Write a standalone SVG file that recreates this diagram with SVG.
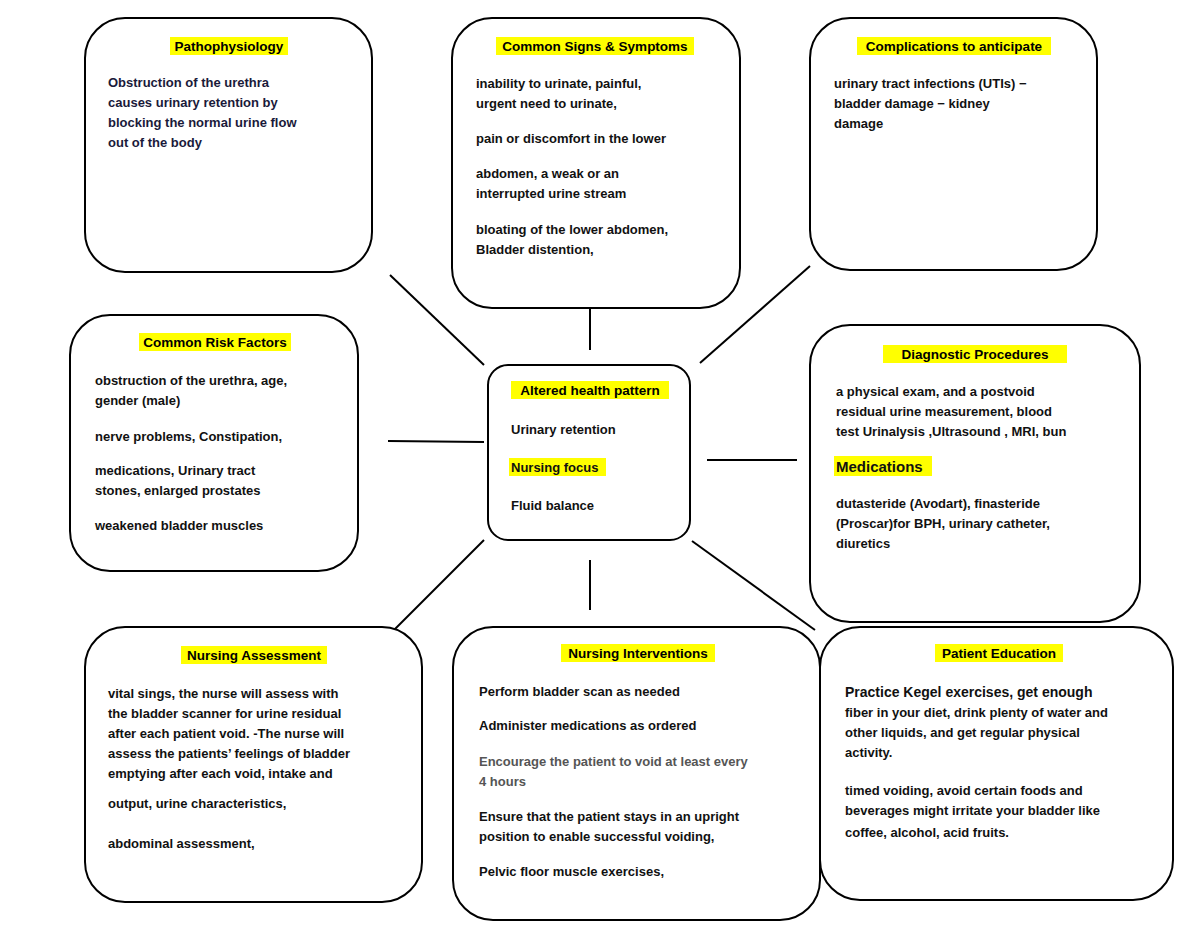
<svg xmlns="http://www.w3.org/2000/svg" width="1200" height="927" viewBox="0 0 1200 927">
<style>
.box{fill:#fff;stroke:#000;stroke-width:2}
.hl{fill:#ffff00}
.h{font-family:"Liberation Sans",Arial,sans-serif;font-weight:bold;font-size:13.5px;fill:#000;text-anchor:middle}
.t{font-family:"Liberation Sans",Arial,sans-serif;font-weight:bold;font-size:13px;fill:#111}
.n{fill:#1a1a3a}
.g{fill:#555}
.c line{stroke:#000;stroke-width:2}
</style>
<rect width="1200" height="927" fill="#fff"/>
<g class="c">
<line x1="390" y1="275" x2="484" y2="365"/>
<line x1="590" y1="283" x2="590" y2="350"/>
<line x1="810" y1="266" x2="700" y2="363"/>
<line x1="388" y1="441" x2="484" y2="442"/>
<line x1="707" y1="460" x2="797" y2="460"/>
<line x1="484" y1="540" x2="388" y2="636"/>
<line x1="590" y1="560" x2="590" y2="610"/>
<line x1="692" y1="541" x2="815" y2="630"/>
</g>
<g id="patho">
<rect class="box" x="85" y="18" width="287" height="254" rx="40"/>
<rect class="hl" x="170" y="37" width="118" height="18"/>
<text class="h" x="229" y="51">Pathophysiology</text>
<text class="t n" x="108" y="87">Obstruction of the urethra</text>
<text class="t n" x="108" y="107">causes urinary retention by</text>
<text class="t n" x="108" y="127">blocking the normal urine flow</text>
<text class="t n" x="108" y="147">out of the body</text>
</g>
<g id="signs">
<rect class="box" x="452" y="18" width="288" height="290" rx="40"/>
<rect class="hl" x="496" y="37" width="198" height="18"/>
<text class="h" x="595" y="51">Common Signs &amp; Symptoms</text>
<text class="t" x="476" y="88">inability to urinate, painful,</text>
<text class="t" x="476" y="108">urgent need to urinate,</text>
<text class="t" x="476" y="143">pain or discomfort in the lower</text>
<text class="t" x="476" y="178">abdomen, a weak or an</text>
<text class="t" x="476" y="198">interrupted urine stream</text>
<text class="t" x="476" y="234">bloating of the lower abdomen,</text>
<text class="t" x="476" y="254">Bladder distention,</text>
</g>
<g id="compl">
<rect class="box" x="810" y="18" width="287" height="252" rx="40"/>
<rect class="hl" x="857" y="37" width="194" height="18"/>
<text class="h" x="954" y="51">Complications to anticipate</text>
<text class="t" x="834" y="88">urinary tract infections (UTIs) −</text>
<text class="t" x="834" y="108">bladder damage − kidney</text>
<text class="t" x="834" y="128">damage</text>
</g>
<g id="risk">
<rect class="box" x="70" y="315" width="288" height="256" rx="40"/>
<rect class="hl" x="139" y="333" width="152" height="18"/>
<text class="h" x="215" y="347">Common Risk Factors</text>
<text class="t" x="95" y="385">obstruction of the urethra, age,</text>
<text class="t" x="95" y="405">gender (male)</text>
<text class="t" x="95" y="441">nerve problems, Constipation,</text>
<text class="t" x="95" y="475">medications, Urinary tract</text>
<text class="t" x="95" y="495">stones, enlarged prostates</text>
<text class="t" x="95" y="530">weakened bladder muscles</text>
</g>
<g id="center">
<rect class="box" x="488" y="365" width="202" height="175" rx="20"/>
<rect class="hl" x="511" y="381" width="158" height="18"/>
<text class="h" x="590" y="395">Altered health pattern</text>
<text class="t" x="511" y="434">Urinary retention</text>
<rect class="hl" x="509" y="458" width="97" height="18"/>
<text class="t" x="511" y="472">Nursing focus</text>
<text class="t" x="511" y="510">Fluid balance</text>
</g>
<g id="diag">
<rect class="box" x="810" y="325" width="330" height="297" rx="40"/>
<rect class="hl" x="883" y="345" width="184" height="18"/>
<text class="h" x="975" y="359">Diagnostic Procedures</text>
<text class="t" x="836" y="396">a physical exam, and a postvoid</text>
<text class="t" x="836" y="416">residual urine measurement, blood</text>
<text class="t" x="836" y="436">test Urinalysis ,Ultrasound , MRI, bun</text>
<rect class="hl" x="834" y="456" width="98" height="20"/>
<text class="t" x="836" y="472" style="font-size:15px">Medications</text>
<text class="t" x="836" y="508">dutasteride (Avodart), finasteride</text>
<text class="t" x="836" y="528">(Proscar)for BPH, urinary catheter,</text>
<text class="t" x="836" y="548">diuretics</text>
</g>
<g id="assess">
<rect class="box" x="85" y="627" width="337" height="275" rx="40"/>
<rect class="hl" x="181" y="646" width="146" height="18"/>
<text class="h" x="254" y="660">Nursing Assessment</text>
<text class="t" x="108" y="698">vital sings, the nurse will assess with</text>
<text class="t" x="108" y="718">the bladder scanner for urine residual</text>
<text class="t" x="108" y="738">after each patient void. -The nurse will</text>
<text class="t" x="108" y="758">assess the patients’ feelings of bladder</text>
<text class="t" x="108" y="778">emptying after each void, intake and</text>
<text class="t" x="108" y="808">output,  urine characteristics,</text>
<text class="t" x="108" y="848">abdominal assessment,</text>
</g>
<g id="interv">
<rect class="box" x="453" y="627" width="367" height="293" rx="40"/>
<rect class="hl" x="561" y="644" width="154" height="18"/>
<text class="h" x="638" y="658">Nursing Interventions</text>
<text class="t" x="479" y="696">Perform bladder scan as needed</text>
<text class="t" x="479" y="730"> Administer medications as ordered</text>
<text class="t g" x="479" y="766">Encourage the patient to void at least every</text>
<text class="t g" x="479" y="786">4 hours</text>
<text class="t" x="479" y="821">Ensure that the patient stays in an upright</text>
<text class="t" x="479" y="841">position to enable successful voiding,</text>
<text class="t" x="479" y="876">Pelvic floor muscle exercises,</text>
</g>
<g id="edu">
<rect class="box" x="820" y="627" width="353" height="273" rx="40"/>
<rect class="hl" x="935" y="644" width="128" height="18"/>
<text class="h" x="999" y="658">Patient Education</text>
<text class="t" x="845" y="697" style="font-size:14px">Practice Kegel exercises, get enough</text>
<text class="t" x="845" y="717">fiber in your diet, drink plenty of water and</text>
<text class="t" x="845" y="737">other liquids, and get regular physical</text>
<text class="t" x="845" y="757">activity.</text>
<text class="t" x="845" y="795">timed voiding, avoid certain foods and</text>
<text class="t" x="845" y="815">beverages might irritate your bladder like</text>
<text class="t" x="845" y="837">coffee, alcohol, acid fruits.</text>
</g>
</svg>
